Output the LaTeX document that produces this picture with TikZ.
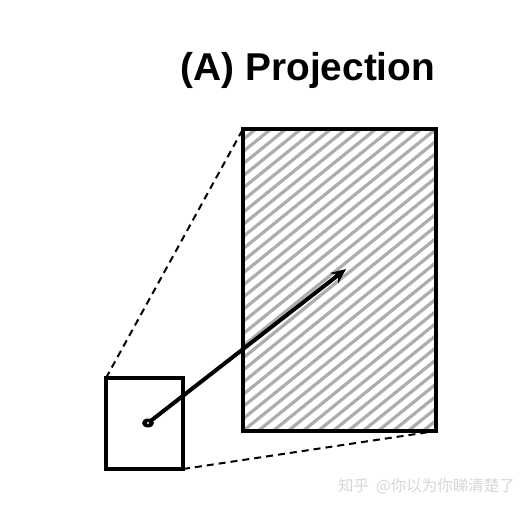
\documentclass[tikz,border=0pt]{standalone}
\usepackage{fontspec}
\setmainfont{Liberation Sans}
\newfontfamily\cjk{Noto Sans CJK SC}
\usetikzlibrary{arrows.meta,shapes.geometric}
\definecolor{hatchgray}{HTML}{ADADAD}
\definecolor{wmgray}{HTML}{D6D6D6}
\tikzset{
  boxstyle/.style={draw=black,line width=4.5pt,minimum width=#1,inner sep=0pt,outer sep=0pt},
  projline/.style={line width=2pt,dash pattern=on 7pt off 5pt},
  arrowline/.style={line width=4pt,-{Stealth[length=15pt,width=13pt]}},
  hatch/.style={hatchgray,line width=3.2pt}
}
\begin{document}
\begin{tikzpicture}[x=1pt,y=-1pt]
\useasboundingbox (0,0) rectangle (524,505);
% title
\node[font=\bfseries\fontsize{38.8}{44}\selectfont,inner sep=0pt] (title) at (308,70) {(A) Projection};
% hatching of big box
\begin{scope}
  \clip (243,129) rectangle (436,431);
  \foreach \i in {-30,...,20} {
    \draw[hatch] (243+\i*15,431) -- (243+\i*15+373,129);
  }
\end{scope}
\node[boxstyle=193pt,minimum height=302pt] (big) at (339.5,280) {};
\node[boxstyle=77pt,minimum height=91pt] (small) at (144.5,423.5) {};
% projection lines
\draw[projline] (small.north west) -- (big.north west);
\draw[projline] (small.south east) -- (big.south east);
% dot and arrow
\coordinate (tip) at (346,269);
\node[ellipse,fill=black,minimum width=12pt,minimum height=9pt,inner sep=0pt] (dot) at (148,423) {};
\draw[arrowline] (dot.center) -- (tip);
\fill[white!60!gray] (dot.center) circle (1.3pt);
% watermark
\node[wmgray,font=\cjk\fontsize{15.5}{18}\selectfont,inner sep=0pt,anchor=west] (wm) at (338,486) {知乎~~@你以为你睇清楚了};
\end{tikzpicture}
\end{document}
